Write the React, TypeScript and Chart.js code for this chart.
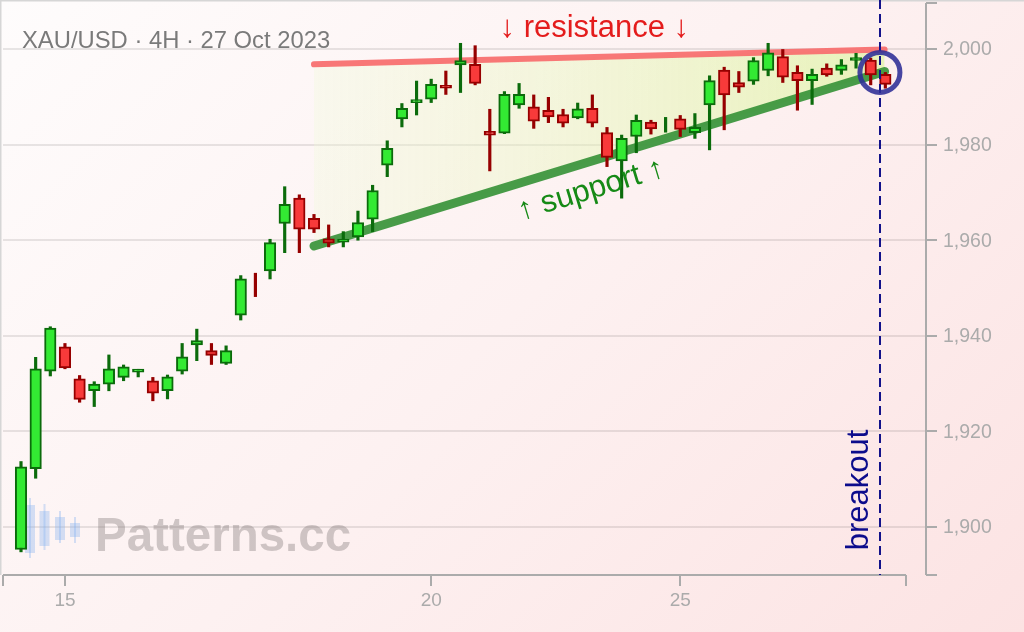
import React, { useEffect, useRef } from 'react';
import { Chart, registerables } from 'chart.js';

Chart.register(...registerables);

// ---- data (XAU/USD 4H candles, indices 0..59) ----
const opens = [
  1895.3, 1912.2, 1932.6, 1937.7, 1931.0, 1928.5, 1929.9, 1931.3, 1932.4, 1930.6,
  1928.5, 1932.6, 1938.1, 1936.9, 1934.2, 1944.3, 1950.6, 1953.6, 1963.5, 1968.8,
  1964.6, 1960.3, 1959.6, 1960.7, 1964.4, 1975.7, 1985.4, 1988.8, 1989.5, 1992.0,
  1996.7, 1996.8, 1982.8, 1982.4, 1988.3, 1987.9, 1987.2, 1986.3, 1985.6, 1987.6,
  1982.5, 1976.6, 1981.7, 1984.7, 1984.2, 1985.4, 1982.5, 1988.3, 1995.6, 1993.0,
  1993.3, 1995.5, 1998.4, 1995.1, 1993.4, 1996.0, 1995.5, 1997.6, 1997.7, 1994.7,
];
const highs = [
  1913.7, 1935.5, 1941.9, 1938.4, 1931.7, 1930.4, 1936.0, 1933.9, 1933.0, 1931.3,
  1931.8, 1938.4, 1941.4, 1938.4, 1937.9, 1952.6, 1953.1, 1960.2, 1971.2, 1969.5,
  1965.4, 1963.2, 1961.8, 1966.1, 1971.5, 1980.8, 1988.6, 1993.3, 1993.7, 1995.4,
  2001.2, 2000.7, 1987.4, 1991.1, 1992.8, 1990.4, 1989.9, 1987.4, 1988.7, 1990.4,
  1983.6, 1982.0, 1986.2, 1985.1, 1985.7, 1986.1, 1986.5, 1994.4, 1996.2, 1995.3,
  1998.2, 2001.2, 1999.9, 1996.5, 1995.8, 1996.9, 1997.8, 1999.1, 1998.1, 1995.1,
];
const lows = [
  1894.8, 1910.2, 1931.6, 1933.1, 1926.1, 1925.2, 1928.5, 1930.6, 1931.4, 1926.4,
  1926.8, 1932.0, 1934.8, 1934.0, 1934.0, 1943.3, 1948.2, 1951.9, 1957.4, 1957.4,
  1961.6, 1958.6, 1958.6, 1960.0, 1961.8, 1973.3, 1983.7, 1986.2, 1988.8, 1990.5,
  1990.9, 1992.5, 1974.5, 1982.3, 1987.6, 1983.4, 1984.6, 1983.7, 1985.4, 1983.7,
  1975.4, 1968.8, 1978.3, 1982.2, 1982.6, 1981.7, 1981.3, 1978.9, 1983.1, 1990.9,
  1992.6, 1994.4, 1993.0, 1987.2, 1988.4, 1994.3, 1994.7, 1996.0, 1992.5, 1991.8,
];
const closes = [
  1912.6, 1933.1, 1941.6, 1933.3, 1926.7, 1929.9, 1933.1, 1933.5, 1932.6, 1928.0,
  1931.4, 1935.6, 1939.0, 1935.9, 1936.9, 1951.9, 1950.6, 1959.5, 1967.5, 1962.3,
  1962.3, 1959.4, 1959.9, 1963.7, 1970.4, 1979.2, 1987.6, 1989.1, 1992.6, 1991.8,
  1997.6, 1992.8, 1982.0, 1990.5, 1990.5, 1984.9, 1985.8, 1984.5, 1987.5, 1984.5,
  1977.3, 1981.3, 1985.1, 1983.3, 1984.2, 1983.2, 1983.6, 1993.4, 1990.4, 1992.0,
  1997.6, 1999.2, 1994.1, 1993.4, 1994.7, 1994.6, 1996.7, 1998.1, 1994.6, 1992.6,
];

const xTickIndex = [3, 28, 45];
const xTickLabels = ['15', '20', '25'];
const yTicks = [1900, 1920, 1940, 1960, 1980, 2000];

const resistanceX = [20, 58.95];
const resistanceY = [1996.8, 1999.9];
const supportX = [20, 58.95];
const supportY = [1958.8, 1995.3];

const breakoutX = 58.63;
const circleX = 58.63;
const circleY = 1995.1;

const titleText = 'XAU/USD · 4H · 27 Oct 2023';
const resistanceLabel = '↓ resistance ↓';
const supportLabel = '↑ support ↑';
const breakoutLabel = 'breakout';
const watermarkText = 'Patterns.cc';

// ---- styling ----
const FONT = '"Liberation Sans", Arial, Helvetica, sans-serif';
const UP_FILL = '#33ea33';
const UP_LINE = '#0b6b0b';
const DN_FILL = '#f83a3a';
const DN_LINE = '#960000';
const AXIS = '#ababab';

const X_MIN = -1.229;
const X_MAX = 60.41;
const Y_MIN = 1889.96;
const Y_MAX = 2009.63;

function isUp(i: number): boolean {
  if (closes[i] > opens[i]) return true;
  if (closes[i] < opens[i]) return false;
  return i > 0 ? closes[i] >= closes[i - 1] : true;
}

const decorPlugin = {
  id: 'decor',
  beforeDatasetsDraw(chart: any) {
    const { ctx, chartArea: a, scales } = chart;
    const y = scales.y;
    const yAxisX = a.right + 20;
    ctx.save();
    // frame lines at the image edge
    ctx.strokeStyle = '#d6d6d6';
    ctx.lineWidth = 1.5;
    ctx.beginPath();
    ctx.moveTo(0, 0.75);
    ctx.lineTo(chart.width, 0.75);
    ctx.moveTo(0.75, 0);
    ctx.lineTo(0.75, a.bottom);
    ctx.stroke();

    // grid lines
    ctx.strokeStyle = 'rgba(0,0,0,0.09)';
    ctx.lineWidth = 2;
    yTicks.forEach((v) => {
      const py = Math.round(y.getPixelForValue(v));
      ctx.beginPath();
      ctx.moveTo(a.left, py);
      ctx.lineTo(yAxisX, py);
      ctx.stroke();
    });

    // watermark logo (little candles) + text
    const logo = [
      [30, 498, 558, 505, 553],
      [44.5, 504, 550, 511, 546],
      [60, 511, 543, 517, 540],
      [75, 517, 543, 523, 537],
    ];
    ctx.fillStyle = 'rgba(120,170,240,0.32)';
    logo.forEach(([cx, wt, wb, bt, bb]) => {
      ctx.fillRect(cx - 1, wt, 2, wb - wt);
      ctx.fillRect(cx - 5, bt, 10, bb - bt);
    });
    ctx.font = `bold 47.5px ${FONT}`;
    ctx.fillStyle = 'rgba(110,100,100,0.32)';
    ctx.textAlign = 'left';
    ctx.textBaseline = 'alphabetic';
    ctx.fillText(watermarkText, 95, 551);
    ctx.restore();
  },
  afterDatasetsDraw(chart: any) {
    const { ctx, chartArea: a, scales } = chart;
    const x = scales.x;
    const y = scales.y;
    const yAxisX = a.right + 20;
    ctx.save();

    // x axis
    ctx.strokeStyle = AXIS;
    ctx.lineWidth = 2;
    ctx.beginPath();
    ctx.moveTo(a.left, a.bottom);
    ctx.lineTo(a.right, a.bottom);
    [a.left, ...xTickIndex.map((i) => x.getPixelForValue(i)), a.right].forEach((px) => {
      const p = Math.round(px);
      ctx.moveTo(p, a.bottom);
      ctx.lineTo(p, a.bottom + 11);
    });
    ctx.stroke();
    ctx.fillStyle = AXIS;
    ctx.font = `19px ${FONT}`;
    ctx.textAlign = 'center';
    ctx.textBaseline = 'top';
    xTickIndex.forEach((i, k) => {
      ctx.fillText(xTickLabels[k], x.getPixelForValue(i), a.bottom + 16);
    });

    // y axis (offset to the right)
    ctx.beginPath();
    ctx.moveTo(yAxisX, a.top);
    ctx.lineTo(yAxisX, a.bottom);
    [a.top, ...yTicks.map((v) => y.getPixelForValue(v)), a.bottom].forEach((py) => {
      const p = Math.round(py);
      ctx.moveTo(yAxisX, p);
      ctx.lineTo(yAxisX + 11, p);
    });
    ctx.stroke();
    ctx.font = `19.5px ${FONT}`;
    ctx.textAlign = 'left';
    ctx.textBaseline = 'middle';
    yTicks.forEach((v) => {
      ctx.fillText(v.toLocaleString('en-US'), yAxisX + 17, y.getPixelForValue(v) + 1);
    });

    // breakout dashed line
    const bx = Math.round(x.getPixelForValue(breakoutX));
    ctx.strokeStyle = '#12128a';
    ctx.lineWidth = 2;
    ctx.setLineDash([9, 5]);
    ctx.beginPath();
    ctx.moveTo(bx, 0);
    ctx.lineTo(bx, a.bottom);
    ctx.stroke();
    ctx.setLineDash([]);

    // circle
    ctx.strokeStyle = 'rgba(45,45,150,0.88)';
    ctx.lineWidth = 5;
    ctx.beginPath();
    ctx.arc(x.getPixelForValue(circleX), y.getPixelForValue(circleY), 20, 0, Math.PI * 2);
    ctx.stroke();

    // resistance label
    const rx0 = x.getPixelForValue(resistanceX[0]);
    const rx1 = x.getPixelForValue(resistanceX[1]);
    ctx.fillStyle = '#e41c1c';
    ctx.font = `31px ${FONT}`;
    ctx.textAlign = 'center';
    ctx.textBaseline = 'alphabetic';
    ctx.fillText(resistanceLabel, (rx0 + rx1) / 2 - 5, 37);

    // support label (rotated along the line)
    const sx0 = x.getPixelForValue(supportX[0]);
    const sy0 = y.getPixelForValue(supportY[0]);
    const sx1 = x.getPixelForValue(supportX[1]);
    const sy1 = y.getPixelForValue(supportY[1]);
    const ang = Math.atan2(sy1 - sy0, sx1 - sx0);
    ctx.save();
    ctx.translate(591, 190);
    ctx.rotate(ang);
    ctx.fillStyle = '#168a16';
    ctx.textBaseline = 'middle';
    ctx.fillText(supportLabel, 0, 0);
    ctx.restore();

    // breakout label
    ctx.save();
    ctx.translate(bx - 21, 490);
    ctx.rotate(-Math.PI / 2);
    ctx.fillStyle = '#0c0c8c';
    ctx.textAlign = 'center';
    ctx.textBaseline = 'middle';
    ctx.fillText(breakoutLabel, 0, 0);
    ctx.restore();

    // title
    ctx.fillStyle = '#7a7a7a';
    ctx.font = `23.8px ${FONT}`;
    ctx.textAlign = 'left';
    ctx.textBaseline = 'alphabetic';
    ctx.fillText(titleText, 22, 48);

    ctx.restore();
  },
};

export default function App() {
  const canvasRef = useRef<HTMLCanvasElement | null>(null);

  useEffect(() => {
    document.body.style.margin = '0';
    const canvas = canvasRef.current;
    if (!canvas) return;

    const idx = opens.map((_, i) => i);
    const bodyData = idx.map((i) =>
      opens[i] === closes[i] ? { x: i, y: null } : { x: i, y: [opens[i], closes[i]] }
    );
    const wickData = idx.map((i) => ({ x: i, y: [lows[i], highs[i]] }));
    const bodyFill = idx.map((i) => (isUp(i) ? UP_FILL : DN_FILL));
    const bodyLine = idx.map((i) => (isUp(i) ? UP_LINE : DN_LINE));

    const chart = new Chart(canvas, {
      type: 'bar',
      data: {
        datasets: [
          {
            type: 'bar',
            label: 'body',
            data: bodyData as any,
            backgroundColor: bodyFill,
            borderColor: bodyLine,
            borderWidth: 2,
            borderSkipped: false,
            barThickness: 11.5,
            minBarLength: 3,
            grouped: false,
            order: 0,
          } as any,
          {
            type: 'bar',
            label: 'wick',
            data: wickData as any,
            backgroundColor: bodyLine,
            borderWidth: 0,
            barThickness: 2.5,
            grouped: false,
            order: 1,
          } as any,
          {
            type: 'line',
            label: 'resistance',
            data: resistanceX.map((v, k) => ({ x: v, y: resistanceY[k] })),
            borderColor: 'rgba(248,112,112,0.95)',
            borderWidth: 6,
            borderCapStyle: 'round',
            pointRadius: 0,
            fill: false,
            order: 3,
          } as any,
          {
            type: 'line',
            label: 'support',
            data: supportX.map((v, k) => ({ x: v, y: supportY[k] })),
            borderColor: 'rgba(62,150,62,0.95)',
            borderWidth: 9,
            borderCapStyle: 'round',
            pointRadius: 0,
            fill: { target: 2 },
            backgroundColor: (c: any) => {
              const ch = c.chart;
              if (!ch.chartArea) return 'rgba(225,245,170,0.45)';
              const g = ch.ctx.createLinearGradient(
                ch.scales.x.getPixelForValue(supportX[0]), 0,
                ch.scales.x.getPixelForValue(supportX[1]), 0
              );
              g.addColorStop(0, 'rgba(240,250,215,0.3)');
              g.addColorStop(1, 'rgba(218,244,150,0.6)');
              return g;
            },
            order: 3,
          } as any,
        ],
      },
      options: {
        responsive: false,
        animation: false,
        devicePixelRatio: 1,
        layout: { padding: { left: 3, top: 3, right: 118, bottom: 57 } },
        plugins: {
          legend: { display: false },
          tooltip: { enabled: false },
        },
        scales: {
          x: { type: 'linear', min: X_MIN, max: X_MAX, offset: false, display: false },
          y: { type: 'linear', min: Y_MIN, max: Y_MAX, display: false },
        },
      } as any,
      plugins: [decorPlugin],
    });

    return () => chart.destroy();
  }, []);

  return (
    <div
      style={{
        position: 'fixed',
        left: 0,
        top: 0,
        width: 1024,
        height: 632,
        background: 'linear-gradient(135deg, #fefcfc 0%, #fdf1f1 50%, #fce3e3 100%)',
      }}
    >
      <canvas ref={canvasRef} width={1024} height={632} style={{ display: 'block' }} />
    </div>
  );
}
